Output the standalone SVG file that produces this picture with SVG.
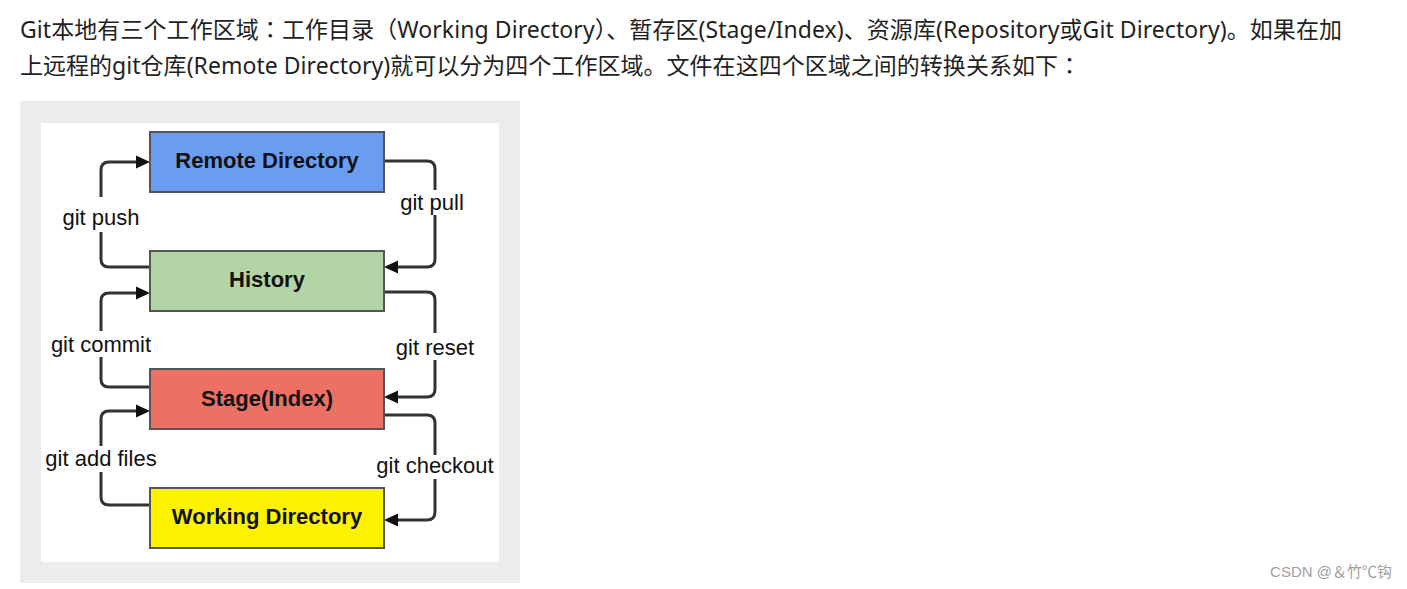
<svg xmlns="http://www.w3.org/2000/svg" width="1407" height="589" viewBox="0 0 1407 589">
<style>
.para{font-family:"Noto Sans","Noto Sans CJK SC",sans-serif;font-size:23px;fill:#1f1f1f}
.jp{font-family:"Noto Sans CJK JP",sans-serif}
.node rect{stroke:#555;stroke-width:2}
.nlabel{font-family:"Liberation Sans",Arial,sans-serif;font-size:22px;font-weight:bold;fill:#111;text-anchor:middle}
.elabel{font-family:"Liberation Sans",Arial,sans-serif;font-size:22px;fill:#111;text-anchor:middle}
.conn{fill:none;stroke:#333;stroke-width:3;stroke-linejoin:round}
.wm{font-family:"Liberation Sans","Noto Sans CJK SC",sans-serif;font-size:15px;fill:#a0a0a0;text-anchor:end}
</style>
<defs>
<marker id="arrow" markerUnits="userSpaceOnUse" markerWidth="16" markerHeight="16" refX="6" refY="7" orient="auto">
<path d="M0,0.5 L14,7 L0,13.5 z" fill="#111"/>
</marker>
</defs>
<rect width="1407" height="589" fill="#fff"/>
<text class="para" x="20" y="38" textLength="1322" lengthAdjust="spacing">Git本地有三个工作区域<tspan class="jp">：</tspan>工作目录（Working Directory）、暂存区(Stage/Index)、资源库(Repository或Git Directory)。如果在加</text>
<text class="para" x="20" y="74" textLength="1061" lengthAdjust="spacing">上远程的git仓库(Remote Directory)就可以分为四个工作区域。文件在这四个区域之间的转换关系如下<tspan class="jp">：</tspan></text>
<rect x="20" y="101" width="500" height="482" fill="#ececec"/>
<rect x="41" y="123" width="458" height="439" fill="#fff"/>
<g id="connectors">
<path class="conn" marker-end="url(#arrow)" d="M150,267 H109 Q101,267 101,259 V232 M101,197 V170 Q101,162 109,162 H142"/>
<path class="conn" marker-end="url(#arrow)" d="M150,387 H109 Q101,387 101,379 V357 M101,331 V301 Q101,293 109,293 H142"/>
<path class="conn" marker-end="url(#arrow)" d="M150,505 H109 Q101,505 101,497 V472 M101,446 V419 Q101,411 109,411 H142"/>
<path class="conn" marker-end="url(#arrow)" d="M384,161 H427 Q435,161 435,169 V190 M435,215 V259 Q435,267 427,267 H392"/>
<path class="conn" marker-end="url(#arrow)" d="M384,292 H427 Q435,292 435,300 V333 M435,360 V389 Q435,397 427,397 H392"/>
<path class="conn" marker-end="url(#arrow)" d="M384,415 H427 Q435,415 435,423 V455 M435,479 V512 Q435,520 427,520 H392"/>
<text class="elabel" x="101" y="225">git push</text>
<text class="elabel" x="432" y="210">git pull</text>
<text class="elabel" x="101" y="352">git commit</text>
<text class="elabel" x="435" y="355">git reset</text>
<text class="elabel" x="101" y="466">git add files</text>
<text class="elabel" x="435" y="473">git checkout</text>
</g>
<g id="remote" class="node"><rect x="150" y="132" width="234" height="60" fill="#6a9cf0"/><text class="nlabel" x="267" y="168">Remote Directory</text></g>
<g id="history" class="node"><rect x="150" y="251" width="234" height="60" fill="#b3d4a4"/><text class="nlabel" x="267" y="287">History</text></g>
<g id="stage" class="node"><rect x="150" y="369" width="234" height="60" fill="#ec7063"/><text class="nlabel" x="267" y="406">Stage(Index)</text></g>
<g id="working" class="node"><rect x="150" y="488" width="234" height="60" fill="#fff200"/><text class="nlabel" x="267" y="524">Working Directory</text></g>
<text class="wm" x="1392" y="577">CSDN @＆竹℃钩</text>
</svg>
